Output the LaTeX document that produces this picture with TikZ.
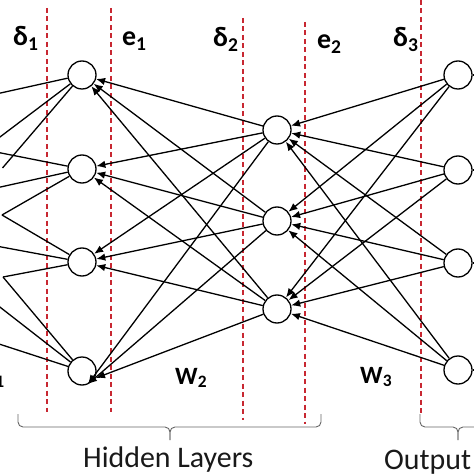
\documentclass[tikz,border=0pt]{standalone}
\usepackage{fontspec}
\setmainfont{Carlito}
\usetikzlibrary{arrows.meta}
\definecolor{sepred}{RGB}{200,40,50}
\begin{document}
\begin{tikzpicture}[x=1bp,y=-1bp,
  neuron/.style={circle,draw,fill=white,line width=1.3bp,minimum size=28bp,inner sep=0pt},
  conn/.style={line width=1.3bp},
  back/.style={conn,-{Latex[length=9bp,width=7.5bp]}},
  sep/.style={draw=sepred,line width=1.3bp,dash pattern=on 5bp off 3.5bp},
  lbl/.style={font=\fontsize{28}{30}\selectfont\bfseries,inner sep=0pt,anchor=base west},
  wlbl/.style={font=\fontsize{25}{28}\selectfont\bfseries,inner sep=0pt,anchor=base west},
  bracestyle/.style={draw=black!60,line width=0.9bp,rounded corners=5bp},
  captext/.style={font=\fontsize{30}{34}\selectfont,inner sep=0pt,anchor=base west,text=black!90}]
\useasboundingbox (0,0) rectangle (474,474);
\clip (0,0) rectangle (474,474);
% separators
\draw[sep] (47,8) -- (47,412);
\draw[sep] (111,8) -- (111,412);
\draw[sep] (243,18) -- (243,420);
\draw[sep] (305,22) -- (305,424);
\draw[sep] (421,0) -- (421,414);
% coordinates at the left edge (input layer off picture)
\coordinate (ia1) at (-4,94);
\coordinate (ia2) at (-4,140);
\coordinate (ia3) at (2.5,168);
\coordinate (ib1) at (-4,152);
\coordinate (ib2) at (-4,188);
\coordinate (ib3) at (2,215);
\coordinate (ic2) at (-4,246);
\coordinate (ic3) at (3,277);
\coordinate (id2) at (-4,304);
\coordinate (id3) at (-4,343);
\coordinate (t1) at (88,384);
\coordinate (t2) at (96,378);
% neurons
\node[neuron] (L1a) at (82,75) {};
\node[neuron] (L1b) at (82,169) {};
\node[neuron] (L1c) at (82,262) {};
\node[neuron] (L1d) at (82,371) {};
\node[neuron] (L2a) at (277,130) {};
\node[neuron] (L2b) at (277,221) {};
\node[neuron] (L2c) at (277,309) {};
\node[neuron] (Oa) at (458,75) {};
\node[neuron] (Ob) at (458,170) {};
\node[neuron] (Oc) at (458,263) {};
\node[neuron] (Od) at (458,370) {};
\coordinate (ra) at (490,75);
\coordinate (rb) at (490,170);
\coordinate (rc) at (490,263);
\coordinate (rd) at (490,370);
% left connections
\draw[conn] (L1a) -- (ia1);
\draw[conn] (L1a) -- (ia2);
\draw[conn] (L1a) -- (ia3);
\draw[conn] (L1b) -- (ib1);
\draw[conn] (L1b) -- (ib2);
\draw[conn] (L1b) -- (ib3);
\draw[conn] (L1c) -- (ib3);
\draw[conn] (L1c) -- (ic2);
\draw[conn] (L1c) -- (ic3);
\draw[conn] (L1d) -- (ic3);
\draw[conn] (L1d) -- (id2);
\draw[conn] (L1d) -- (id3);
% W2 arrows
\foreach \s in {L2a,L2b,L2c}{
  \foreach \t in {L1a,L1b,L1c}{
    \draw[back] (\s) -- (\t);
  }
}
\draw[back] (L2a) -- (t1);
\draw[back] (L2b) -- (t1);
\draw[back] (L2c) -- (t2);
% W3 arrows
\foreach \s in {Oa,Ob,Oc,Od}{
  \foreach \t in {L2a,L2b,L2c}{
    \draw[back] (\s) -- (\t);
  }
}
\draw[conn] (Oa) -- (ra);
\draw[conn] (Ob) -- (rb);
\draw[conn] (Oc) -- (rc);
\draw[conn] (Od) -- (rd);
% labels
\node[lbl] (d1) at (13,46) {δ\textsubscript{1}};
\node[lbl] (e1) at (122,46) {e\textsubscript{1}};
\node[lbl] (d2) at (213,47) {δ\textsubscript{2}};
\node[lbl] (e2) at (317,49) {e\textsubscript{2}};
\node[lbl] (d3) at (393,47) {δ\textsubscript{3}};
\node[wlbl,anchor=base east] (w1) at (5,384) {W\textsubscript{1}};
\node[wlbl] (w2) at (175,384) {W\textsubscript{2}};
\node[wlbl] (w3) at (360,383) {W\textsubscript{3}};
% braces
\draw[bracestyle] (18,414) |- (170,427) -- (170,440);
\draw[bracestyle] (321,414) |- (170,427) -- (170,440);
\draw[bracestyle] (420,414) |- (458,427) -- (458,440);
\draw[bracestyle] (496,414) |- (458,427) -- (458,440);
\node[captext] (hl) at (83,467) {Hidden Layers};
\node[captext] (ol) at (384,469) {Output};
\end{tikzpicture}
\end{document}
